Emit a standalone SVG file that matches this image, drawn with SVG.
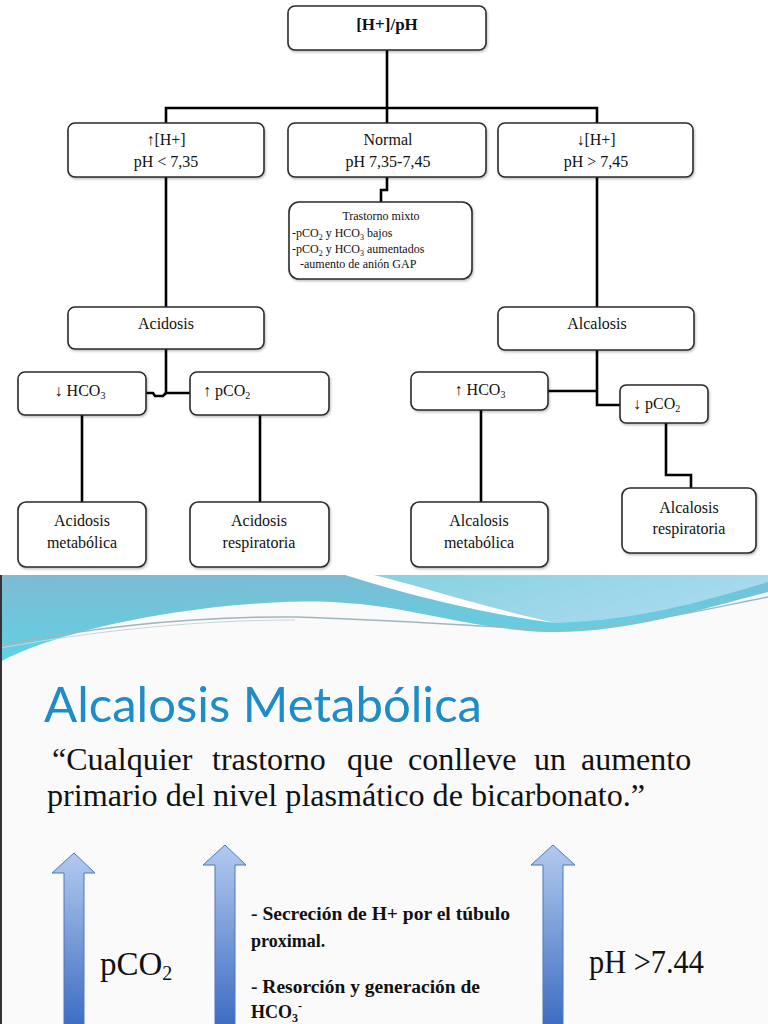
<svg xmlns="http://www.w3.org/2000/svg" width="768" height="1024" viewBox="0 0 768 1024">
<defs>
<style>
.box{fill:#fff;stroke:#2a2a2a;stroke-width:1.6}
.t{font-family:"Liberation Serif","Times New Roman",serif;font-size:16px;fill:#111;text-anchor:middle}
.tl{font-family:"Liberation Serif","Times New Roman",serif;font-size:16px;fill:#111;text-anchor:start}
.ts{font-family:"Liberation Serif","Times New Roman",serif;font-size:12px;fill:#111}
.c{fill:none;stroke:#000;stroke-width:2.6}
.arrow{fill:url(#ag);stroke:#4a78c0;stroke-width:1}
.bt{font-family:"Liberation Serif","Times New Roman",serif;font-weight:bold;font-size:18px;fill:#111}
.big{font-family:"Liberation Serif","Times New Roman",serif;font-size:33px;fill:#111}
.q{font-family:"Liberation Serif","Times New Roman",serif;font-size:32px;fill:#111}
</style>
<linearGradient id="ag" x1="0" y1="0" x2="0" y2="1">
<stop offset="0" stop-color="#b3caef"/>
<stop offset="1" stop-color="#3d6cc2"/>
</linearGradient>
<linearGradient id="bandL" x1="0" y1="0" x2="0.3" y2="1">
<stop offset="0" stop-color="#80b9d2"/>
<stop offset="1" stop-color="#5cd4e6"/>
</linearGradient>
<linearGradient id="bandR" x1="0" y1="0" x2="1" y2="0.4">
<stop offset="0" stop-color="#86d2de"/>
<stop offset="1" stop-color="#aadaf0"/>
</linearGradient>
<filter id="sh" x="-5%" y="-5%" width="115%" height="125%">
<feDropShadow dx="1" dy="1.5" stdDeviation="1" flood-color="#000" flood-opacity="0.25"/>
</filter>
</defs>
<rect x="0" y="0" width="768" height="575" fill="#fff"/>
<g id="connectors">
<polyline class="c" points="387,50 387,108"/>
<polyline class="c" points="166,123 166,108 597,108 597,123"/>
<polyline class="c" points="387,108 387,123"/>
<polyline class="c" points="387,177 387,190 381,190 381,202"/>
<polyline class="c" points="166,177 166,307"/>
<polyline class="c" points="597,177 597,307"/>
<polyline class="c" points="166,349 166,393 190,393"/>
<polyline class="c" points="146,393 153,393 155,396 163,396 166,393"/>
<polyline class="c" points="597,350 597,405 620,405"/>
<polyline class="c" points="548,391 597,391"/>
<polyline class="c" points="82,415 82,502"/>
<polyline class="c" points="260,415 260,502"/>
<polyline class="c" points="481,410 481,502"/>
<polyline class="c" points="666,423 666,475 691,475 691,488"/>
</g>
<g id="n-root"><rect class="box" filter="url(#sh)" x="288" y="6" width="198" height="44" rx="7"/><text class="t" x="387" y="30" style="font-weight:bold;font-size:17px">[H+]/pH</text></g>
<g id="n-high"><rect class="box" filter="url(#sh)" x="68" y="123" width="196" height="54" rx="7"/><text class="t" x="166" y="145">↑[H+]</text><text class="t" x="166" y="167">pH &lt; 7,35</text></g>
<g id="n-normal"><rect class="box" filter="url(#sh)" x="288" y="123" width="198" height="54" rx="7"/><text class="t" x="388" y="145">Normal</text><text class="t" x="388" y="167">pH 7,35-7,45</text></g>
<g id="n-low"><rect class="box" filter="url(#sh)" x="498" y="123" width="195" height="54" rx="7"/><text class="t" x="596" y="145">↓[H+]</text><text class="t" x="596" y="167">pH &gt; 7,45</text></g>
<g id="n-mixto"><rect class="box" filter="url(#sh)" x="289" y="202" width="183" height="77" rx="10"/>
<text class="ts" x="381" y="220" text-anchor="middle">Trastorno mixto</text>
<text class="ts" x="292" y="237">-pCO<tspan font-size="8" dy="3">2</tspan><tspan dy="-3"> y HCO</tspan><tspan font-size="8" dy="3">3</tspan><tspan dy="-3"> bajos</tspan></text>
<text class="ts" x="292" y="253">-pCO<tspan font-size="8" dy="3">2</tspan><tspan dy="-3"> y HCO</tspan><tspan font-size="8" dy="3">3</tspan><tspan dy="-3"> aumentados</tspan></text>
<text class="ts" x="300" y="268">-aumento de anión GAP</text></g>
<g id="n-acidosis"><rect class="box" filter="url(#sh)" x="68" y="307" width="196" height="42" rx="7"/><text class="t" x="166" y="329">Acidosis</text></g>
<g id="n-alcalosis"><rect class="box" filter="url(#sh)" x="498" y="307" width="196" height="43" rx="7"/><text class="t" x="597" y="329">Alcalosis</text></g>
<g id="n-dhco3"><rect class="box" filter="url(#sh)" x="18" y="372" width="128" height="43" rx="7"/><text class="t" x="80" y="396">↓ HCO<tspan font-size="10" dy="3">3</tspan></text></g>
<g id="n-upco2"><rect class="box" filter="url(#sh)" x="190" y="372" width="139" height="43" rx="7"/><text class="tl" x="203" y="396">↑ pCO<tspan font-size="10" dy="3">2</tspan></text></g>
<g id="n-uhco3"><rect class="box" filter="url(#sh)" x="411" y="372" width="137" height="38" rx="7"/><text class="t" x="480" y="395">↑ HCO<tspan font-size="10" dy="3">3</tspan></text></g>
<g id="n-dpco2"><rect class="box" filter="url(#sh)" x="620" y="385" width="88" height="38" rx="6"/><text class="tl" x="633" y="409">↓ pCO<tspan font-size="10" dy="3">2</tspan></text></g>
<g id="n-acmet"><rect class="box" filter="url(#sh)" x="18" y="502" width="128" height="65" rx="8"/><text class="t" x="82" y="526">Acidosis</text><text class="t" x="82" y="548">metabólica</text></g>
<g id="n-acresp"><rect class="box" filter="url(#sh)" x="190" y="502" width="139" height="65" rx="8"/><text class="t" x="259" y="526">Acidosis</text><text class="t" x="259" y="548">respiratoria</text></g>
<g id="n-almet"><rect class="box" filter="url(#sh)" x="411" y="502" width="137" height="65" rx="8"/><text class="t" x="479" y="526">Alcalosis</text><text class="t" x="479" y="548">metabólica</text></g>
<g id="n-alresp"><rect class="box" filter="url(#sh)" x="622" y="488" width="134" height="65" rx="8"/><text class="t" x="689" y="513">Alcalosis</text><text class="t" x="689" y="534">respiratoria</text></g>

<g id="slide">
<rect x="0" y="575" width="768" height="449" fill="#fafafa"/>
<path d="M0,575 H768 V592 C700,610 620,634 548,632 C480,630 420,610 360,604 C330,601 300,601 285,602 C180,606 60,630 0,662 Z" fill="url(#bandL)"/>
<path d="M374,575 H768 V582 C700,602 640,620 556,623 C480,606 420,586 374,575 Z" fill="url(#bandR)"/>
<path d="M345,575 H374 C420,586 480,606 556,623 C480,614 400,592 345,575 Z" fill="#fff"/>
<path d="M0,645 C100,626 200,616 295,617 C400,620 500,628 560,630 C650,624 720,606 768,597" fill="none" stroke="#9fb6bd" stroke-width="1.5"/>
<path d="M0,648 C100,630 200,620 295,620" fill="none" stroke="#c6d6da" stroke-width="1"/>
<rect x="0" y="575" width="2" height="449" fill="#333"/>
<text x="44" y="722" font-family="Lato,'Open Sans',sans-serif" font-size="48" fill="#1d8cc8" textLength="438" lengthAdjust="spacingAndGlyphs">Alcalosis Metabólica</text>
<text class="q" y="770"><tspan x="52">“Cualquier</tspan><tspan x="212">trastorno</tspan><tspan x="347">que</tspan><tspan x="408">conlleve</tspan><tspan x="534">un</tspan><tspan x="581">aumento</tspan></text>
<text class="q" x="47" y="806" textLength="598" lengthAdjust="spacingAndGlyphs">primario del nivel plasmático de bicarbonato.”</text>
<path class="arrow" d="M74,853 L95,873 L84,873 L84,1026 L64,1026 L64,873 L52,873 Z"/>
<path class="arrow" d="M225,845 L246,865 L235,865 L235,1026 L215,1026 L215,865 L203,865 Z"/>
<path class="arrow" d="M553,845 L575,865 L563,865 L563,1026 L543,1026 L543,865 L531,865 Z"/>
<text class="big" x="100" y="975">pCO<tspan font-size="20" dy="5">2</tspan></text>
<text class="big" x="589" y="973" textLength="115" lengthAdjust="spacingAndGlyphs">pH &gt;7.44</text>
<text class="bt" x="251" y="920" textLength="259" lengthAdjust="spacingAndGlyphs">- Secreción de H+ por el túbulo</text>
<text class="bt" x="251" y="947">proximal.</text>
<text class="bt" x="251" y="993" textLength="229" lengthAdjust="spacingAndGlyphs">- Resorción y generación de</text>
<text class="bt" x="251" y="1018">HCO<tspan font-size="12" dy="4">3</tspan><tspan font-size="12" dy="-12">-</tspan></text>
</g>
</svg>
